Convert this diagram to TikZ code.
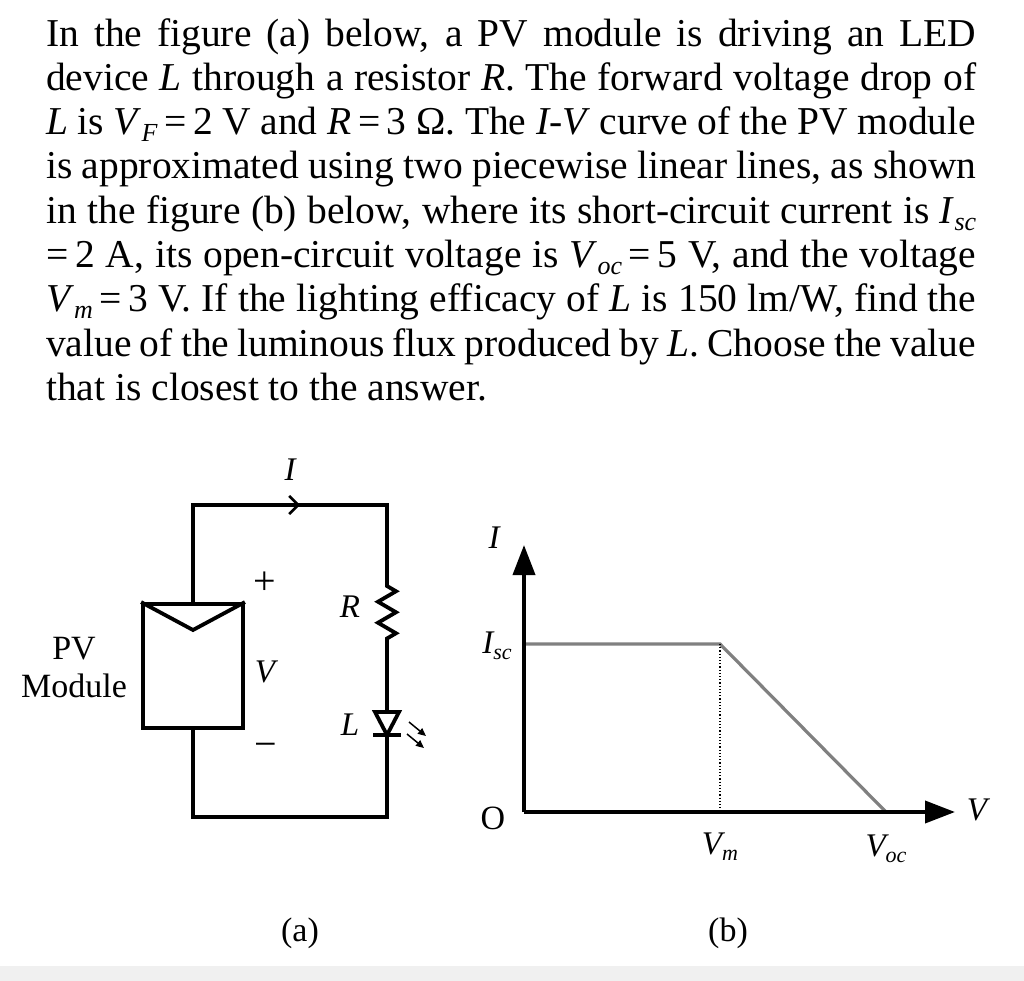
\documentclass[tikz,border=0pt]{standalone}
\usepackage{fontspec}
\setmainfont{Liberation Serif}
\usetikzlibrary{arrows.meta,decorations.pathmorphing}
\newcommand{\sbs}[1]{\raisebox{-0.18em}{\fontsize{26}{26}\selectfont\textit{#1}}}
\newcommand{\lsb}[1]{\raisebox{-0.18em}{\fontsize{22}{22}\selectfont\textit{#1}}}
\begin{document}
\begin{tikzpicture}[x=1pt,y=-1pt,
  wire/.style={line width=3.8pt,line join=miter},
  lbl/.style={font=\fontsize{33}{36}\selectfont\itshape,inner sep=0pt},
  up/.style={font=\fontsize{34}{36}\selectfont,inner sep=0pt}]
\useasboundingbox (0,0) rectangle (1024,981);
\fill[gray!12] (0,966) rectangle (1024,981);
\node[anchor=north west,inner sep=0pt,text width=930pt,align=justify,
  font=\fontsize{39.5}{44.3}\selectfont] (txt) at (46,18)
{In the figure (a) below, a PV module is driving an LED\linebreak
device \textit{L} through a resistor \textit{R}. The forward voltage drop of\linebreak
\textit{L} is \textit{V}\sbs{F}\,=\,2 V and \textit{R}\,=\,3 Ω. The \textit{I-V} curve of the PV module\linebreak
is approximated using two piecewise linear lines, as shown\linebreak
in the figure (b) below, where its short-circuit current is \textit{I}\sbs{sc}\linebreak
=\,2 A, its open-circuit voltage is \textit{V}\sbs{oc}\,=\,5 V, and the voltage\linebreak
\textit{V}\sbs{m}\,=\,3 V. If the lighting efficacy of \textit{L} is 150 lm/W, find the\linebreak
value of the luminous flux produced by \textit{L}. Choose the value\linebreak
that is closest to the answer.};
% circuit
\coordinate (tl) at (193,505); \coordinate (tr) at (387,505);
\coordinate (bl) at (193,817); \coordinate (br) at (387,817);
\coordinate (rt) at (387,583); \coordinate (rb) at (387,648);
\coordinate (dt) at (387,712); \coordinate (db) at (387,735);
\node[draw,line width=3.8pt,minimum width=100pt,minimum height=124pt,inner sep=0pt] (pv) at (193,666) {};
\draw[wire] (pv.north west) -- (193,630) -- (pv.north east);
\draw[wire] (pv.north) -- (tl) -- (tr) -- (rt);
\draw[wire,decorate,decoration={zigzag,segment length=21pt,amplitude=9pt,pre length=3pt,post length=3pt}] (rt) -- (rb);
\draw[wire] (rb) -- (dt);
\draw[wire] (375,712) -- (399,712) -- (db) -- cycle;
\draw[wire] (373,735) -- (401,735);
\draw[wire] (db) -- (br) -- (bl) -- (pv.south);
\draw[line width=2.6pt,-{Straight Barb[length=9pt,width=18pt]}] (275,505) -- (300,505);
\draw[line width=1.5pt,-{Triangle[length=8pt,width=7pt]}] (409,722) -- (426,736);
\draw[line width=1.5pt,-{Triangle[length=8pt,width=7pt]}] (407,734) -- (424,748);
\node[lbl] (I) at (290,470) {I};
\node[up] (plus) at (265,583) {\fontsize{40}{40}\selectfont +};
\node[up] (minus) at (266,750) {\fontsize{40}{40}\selectfont −};
\node[lbl] (V) at (265,672) {V};
\node[lbl] (R) at (350,607) {R};
\node[lbl] (L) at (350,725) {L};
\node[up,align=center] (pvl) at (74,668) {PV\\[2pt]Module};
% graph
\coordinate (O) at (524,812);
\coordinate (yt) at (524,545); \coordinate (xr) at (955,812);
\coordinate (A) at (524,644); \coordinate (B) at (720,644); \coordinate (C) at (886,812);
\draw[gray,line width=3.2pt] (A) -- (B) -- (C);
\draw[line width=1.2pt,dotted] (B) -- (720,812);
\draw[line width=3.8pt,-{Triangle[length=30pt,width=22pt]}] (O) -- (yt);
\draw[line width=3.8pt,-{Triangle[length=30pt,width=22pt]}] (O) -- (xr);
\node[lbl] (Il) at (494,538) {I};
\node[lbl] (Isc) at (497,646) {I\lsb{sc}};
\node[up] (Ol) at (493,818) {O};
\node[lbl] (Vl) at (977,810) {V};
\node[lbl] (Vm) at (720,847) {V\lsb{m}};
\node[lbl] (Voc) at (886,849) {V\lsb{oc}};
\node[up] (a) at (300,933) {(a)};
\node[up] (b) at (728,933) {(b)};
\end{tikzpicture}
\end{document}
